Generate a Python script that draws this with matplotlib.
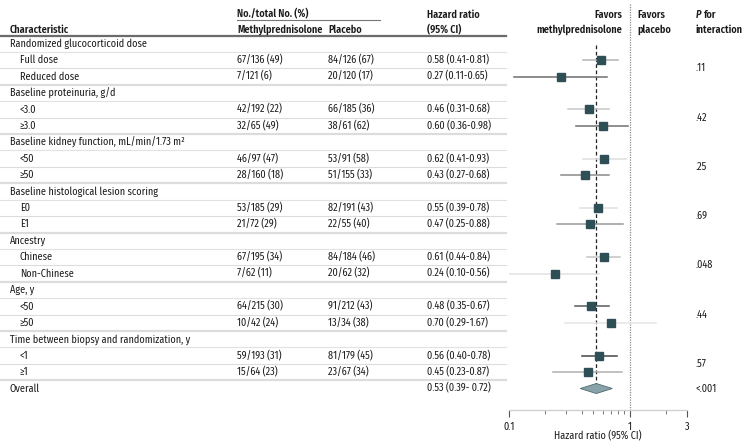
import numpy as np
import matplotlib
matplotlib.use("Agg")
import matplotlib.pyplot as plt
from matplotlib import font_manager

# ---- data ----
groups = [
    "Randomized glucocorticoid dose",
    "Baseline proteinuria, g/d",
    "Baseline kidney function, mL/min/1.73 m²",
    "Baseline histological lesion scoring",
    "Ancestry",
    "Age, y",
    "Time between biopsy and randomization, y",
]
subgroups = [
    ["Full dose", "Reduced dose"],
    ["<3.0", "≥3.0"],
    ["<50", "≥50"],
    ["E0", "E1"],
    ["Chinese", "Non-Chinese"],
    ["<50", "≥50"],
    ["<1", "≥1"],
]
methyl = ["67/136 (49)", "7/121 (6)", "42/192 (22)", "32/65 (49)", "46/97 (47)", "28/160 (18)",
          "53/185 (29)", "21/72 (29)", "67/195 (34)", "7/62 (11)", "64/215 (30)", "10/42 (24)",
          "59/193 (31)", "15/64 (23)"]
placebo = ["84/126 (67)", "20/120 (17)", "66/185 (36)", "38/61 (62)", "53/91 (58)", "51/155 (33)",
           "82/191 (43)", "22/55 (40)", "84/184 (46)", "20/62 (32)", "91/212 (43)", "13/34 (38)",
           "81/179 (45)", "23/67 (34)"]
hr = [0.58, 0.27, 0.46, 0.60, 0.62, 0.43, 0.55, 0.47, 0.61, 0.24, 0.48, 0.70, 0.56, 0.45]
lo = [0.41, 0.11, 0.31, 0.36, 0.41, 0.27, 0.39, 0.25, 0.44, 0.10, 0.35, 0.29, 0.40, 0.23]
hi = [0.81, 0.65, 0.68, 0.98, 0.93, 0.68, 0.78, 0.88, 0.84, 0.56, 0.67, 1.67, 0.78, 0.87]
p_inter = [".11", ".42", ".25", ".69", ".048", ".44", ".57"]
overall_hr, overall_lo, overall_hi = 0.53, 0.39, 0.72
overall_p = "<.001"

# shade of each CI line (as in the original)
ci_colors = ["#b4b4b4", "#6e6e6e", "#c8c8c8", "#707070", "#dedede", "#8a8a8a", "#e0e0e0",
             "#9a9a9a", "#c4c4c4", "#e2e2e2", "#585858", "#e6e6e6", "#454545", "#b0b0b0"]

txt = "#1a1a1a"
fig = plt.figure(figsize=(7.5, 4.47), dpi=100)
tab = fig.add_axes([0, 0, 1, 1])
tab.set_xlim(0, 750)
tab.set_ylim(447, 0)
tab.axis("off")

# ---- fonts: pick the condensed sans whose width at 7.4 pt is nearest the original ----
names = {f.name for f in font_manager.fontManager.ttflist}
cands = ["Roboto Condensed", "PT Sans Narrow", "Asap Condensed", "Fira Sans Condensed",
         "Fira Sans Extra Condensed", "Barlow Semi Condensed", "IBM Plex Sans Condensed",
         "Archivo Narrow", "Encode Sans Condensed", "Open Sans Condensed", "Cabin Condensed",
         "Sofia Sans Condensed", "Saira Semi Condensed", "Ubuntu Condensed"]
cands = [c for c in cands if c in names] or ["DejaVu Sans"]
renderer = fig.canvas.get_renderer()
BASE = 7.4
best = None
for c in cands:
    t = tab.text(0, 0, "Randomized glucocorticoid dose", fontsize=BASE, family=[c])
    w = t.get_window_extent(renderer=renderer).width
    t.remove()
    if best is None or abs(w - 136) < abs(best[1] - 136):
        best = (c, w)
fam = best[0]
FS = BASE * 136 / best[1]
plt.rcParams["font.family"] = [fam, "DejaVu Sans"]
HW = "semibold"

# column positions (pixels)
x_char, x_sub, x_met, x_pla, x_hr, x_p = 10, 20, 237, 328, 427, 696
y0, dy = 43.7, 16.42
line_end = 506

def row_y(i):
    return y0 + i * dy

def put(x, y, s, **kw):
    return tab.text(x, y, s, fontsize=FS, va="center", color=txt, family=[fam, "DejaVu Sans"], **kw)

# header
put(x_met, 13.5, "No./total No. (%)", fontweight=HW)
tab.plot([x_met, 380], [19.5, 19.5], color="#777777", lw=0.8)
put(x_char, 29.5, "Characteristic", fontweight=HW)
put(x_met, 29.5, "Methylprednisolone", fontweight=HW)
put(x_pla, 29.5, "Placebo", fontweight=HW)
put(x_hr, 15, "Hazard ratio", fontweight=HW)
put(x_hr, 29.5, "(95% CI)", fontweight=HW)
put(622, 15, "Favors", fontweight=HW, ha="right")
put(622, 29.5, "methylprednisolone", fontweight=HW, ha="right")
put(637, 15, "Favors", fontweight=HW)
put(637, 29.5, "placebo", fontweight=HW)
ptxt = put(x_p, 15, "P", fontweight=HW, style="italic")
pw = ptxt.get_window_extent(renderer=renderer).width
put(x_p + pw + 2.5, 15, "for", fontweight=HW)
put(x_p, 29.5, "interaction", fontweight=HW)
tab.plot([0, line_end], [36, 36], color="#6b6b6b", lw=1.6)

# forest axes, y in figure pixels
ax = fig.add_axes([509 / 750, 0, 178 / 750, 1])
ax.set_xscale("log")
ax.set_xlim(0.1, 3)
ax.set_ylim(447, 0)
ax.patch.set_alpha(0)

row = 0
k = 0
for g, subs in enumerate(subgroups):
    put(x_char, row_y(row), groups[g])
    tab.plot([0, line_end], [row_y(row) + dy / 2] * 2, color="#e2e2e2", lw=0.8)
    row += 1
    first = row
    for j, s in enumerate(subs):
        y = row_y(row)
        put(x_sub, y, s)
        put(x_met, y, methyl[k])
        put(x_pla, y, placebo[k])
        put(x_hr, y, f"{hr[k]:.2f} ({lo[k]:.2f}-{hi[k]:.2f})")
        last = j == len(subs) - 1
        tab.plot([0, line_end], [y + dy / 2] * 2, color="#dcdcdc", lw=1.6 if last else 0.8)
        ax.plot([lo[k], hi[k]], [y, y], color=ci_colors[k], lw=1.1, zorder=2)
        ax.plot(hr[k], y, marker="s", ms=5.2, color="#2f4f57", mec="#2f4f57", zorder=3)
        row += 1
        k += 1
    put(x_p, (row_y(first) + row_y(row - 1)) / 2, p_inter[g])

# overall
y = row_y(row)
put(x_char, y, "Overall")
put(x_hr, y, f"{overall_hr:.2f} ({overall_lo:.2f}- {overall_hi:.2f})")
put(x_p, y, overall_p)
ax.fill([overall_lo, overall_hr, overall_hi, overall_hr], [y, y - 5, y, y + 5],
        facecolor="#88a4aa", edgecolor="#4e6a70", lw=0.6, zorder=3)

# reference lines
ax.vlines(1, 4, 410, color="#8a8a8a", lw=0.9, linestyles=(0, (1, 1)), zorder=1)
ax.vlines(overall_hr, 45, y + 4, color="#222222", lw=0.9, linestyles=(0, (3, 2)), zorder=1)

# x axis
for side in ["left", "right", "top"]:
    ax.spines[side].set_visible(False)
ax.spines["bottom"].set_position(("data", 410))
ax.spines["bottom"].set_color("#cfcfcf")
ax.spines["bottom"].set_linewidth(0.9)
ax.set_yticks([])
ax.set_xticks([0.1, 1, 3])
ax.set_xticklabels(["0.1", "1", "3"])
ax.set_xticks([0.2, 0.3, 0.4, 0.5, 0.6, 0.7, 0.8, 0.9, 2], minor=True)
ax.xaxis.set_minor_formatter(matplotlib.ticker.NullFormatter())
ax.tick_params(axis="x", which="major", length=5, width=0.8, color="#555555", labelsize=FS,
               labelcolor=txt, pad=3)
for lbl in ax.get_xticklabels():
    lbl.set_family([fam, "DejaVu Sans"])
ax.tick_params(axis="x", which="minor", length=3, width=0.7, color="#777777")
put(598, 436, "Hazard ratio (95% CI)", ha="center")

fig.savefig("out.png", dpi=100)
